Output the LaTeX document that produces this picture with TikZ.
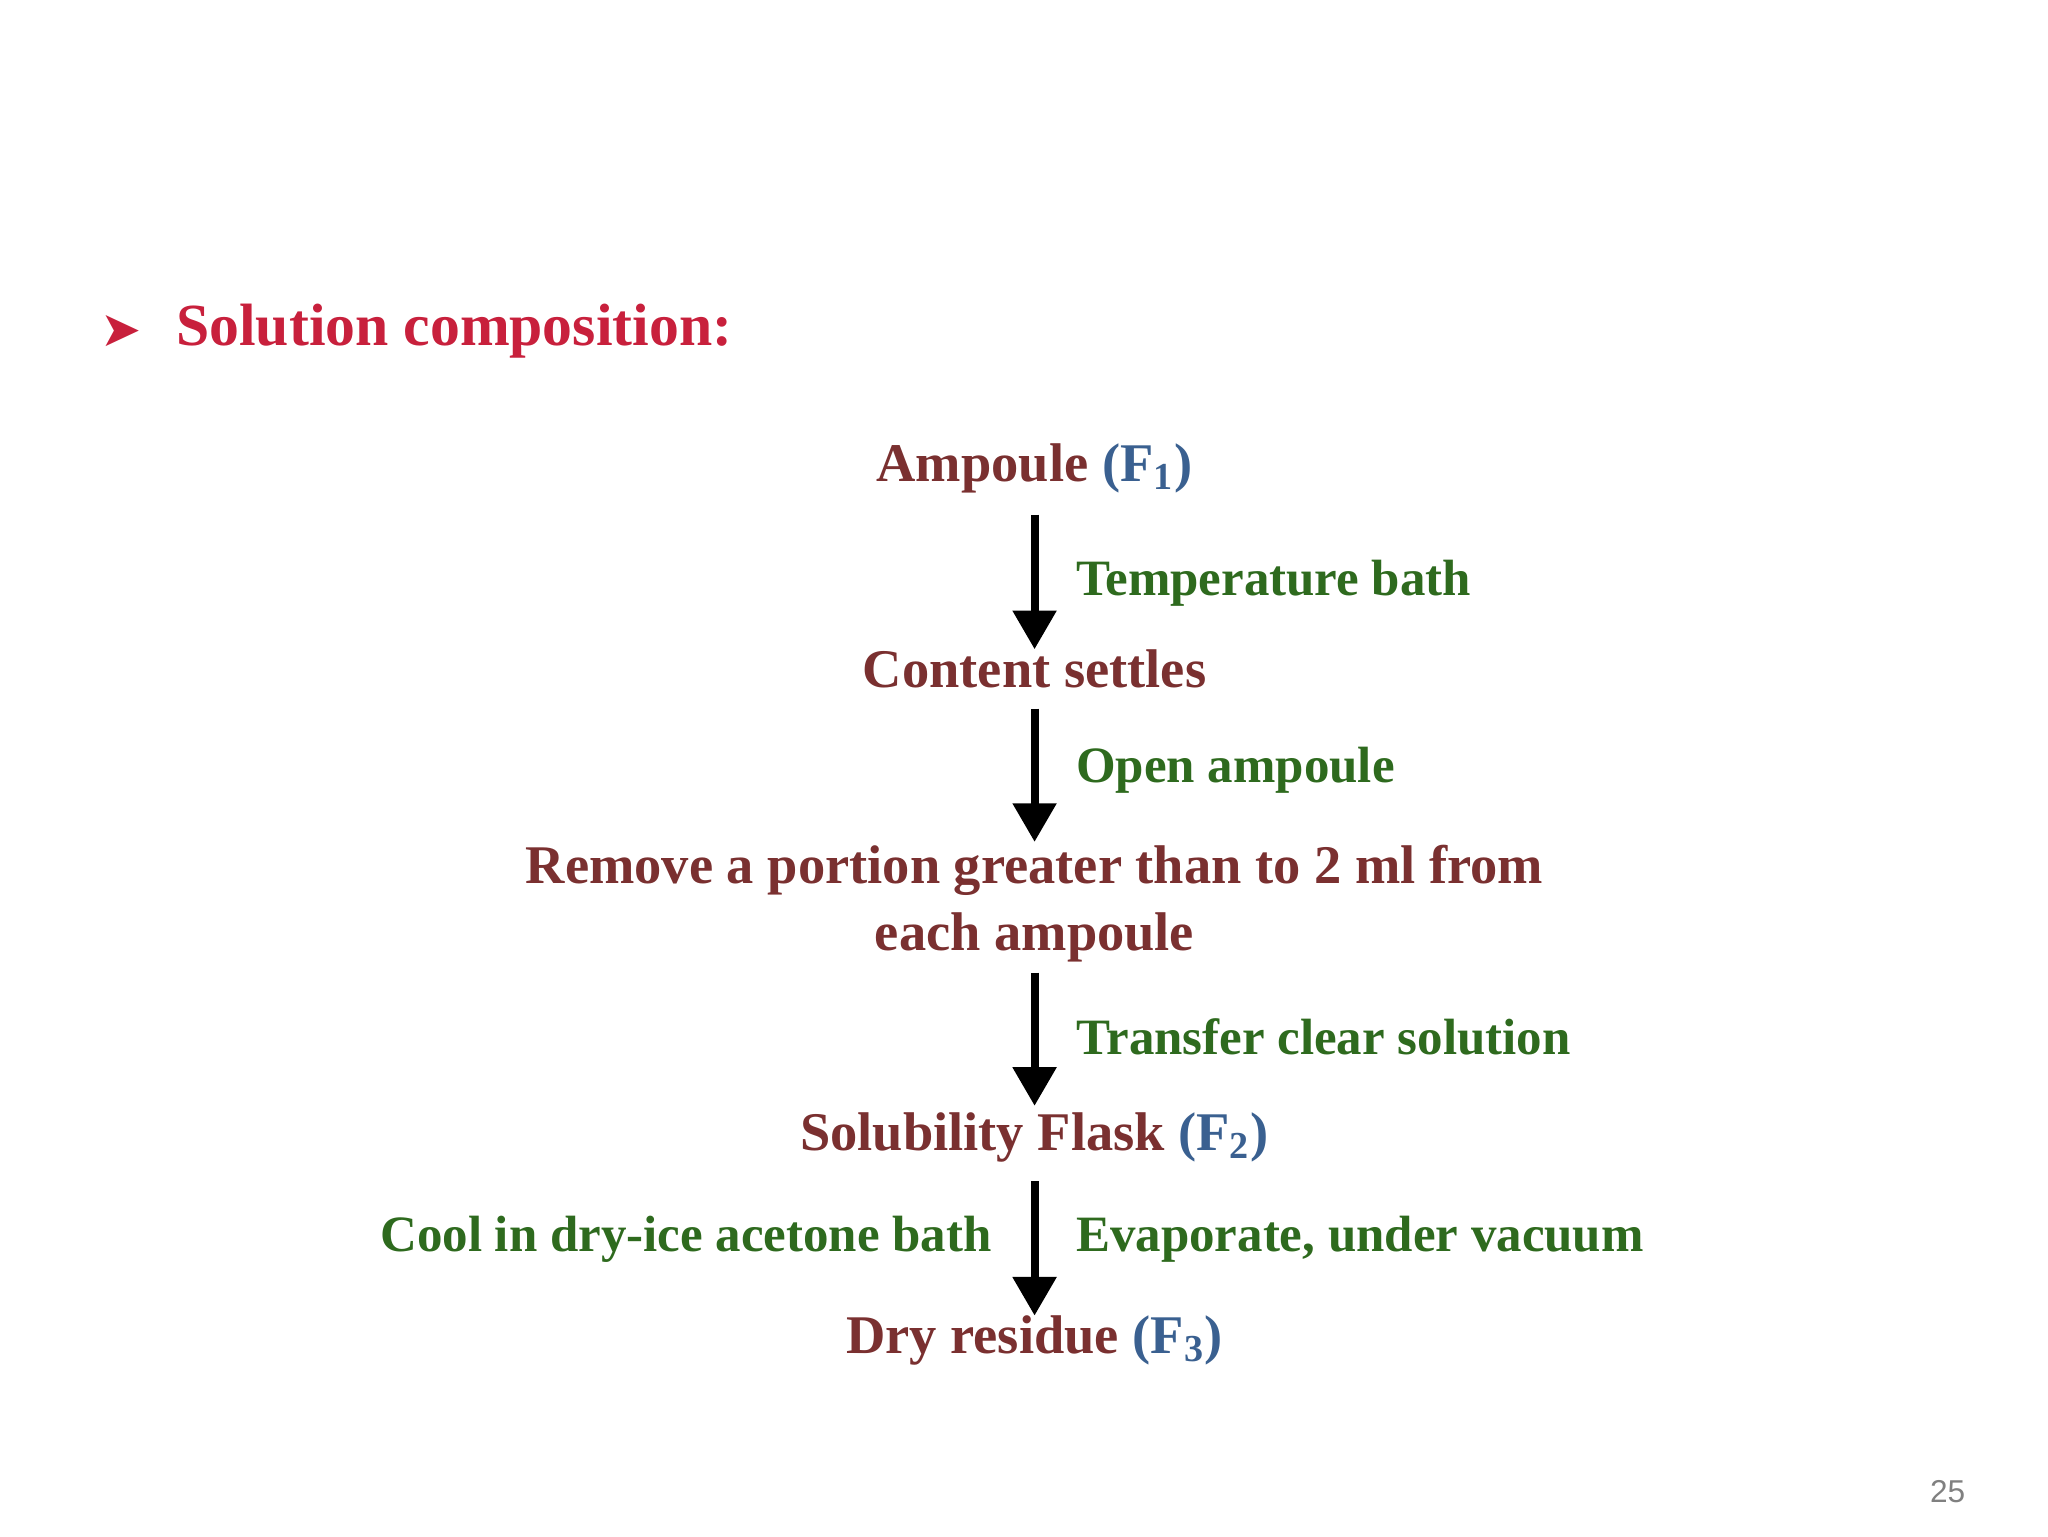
\documentclass[tikz,border=0pt]{standalone}
\usepackage{fontspec}
\setmainfont{Liberation Serif}
\newfontfamily\djv{DejaVu Sans}
\newfontfamily\lsans{Liberation Sans}
\usetikzlibrary{arrows.meta}
\definecolor{titlered}{RGB}{200,32,60}
\definecolor{brownc}{RGB}{122,48,48}
\definecolor{bluec}{RGB}{58,96,144}
\definecolor{greenc}{RGB}{46,106,30}
\begin{document}
\begin{tikzpicture}[x=0.0132cm,y=-0.0132cm,
  main/.style={font=\fontsize{15.5}{19}\selectfont\bfseries,text=brownc,align=center,inner sep=0pt},
  lab/.style={font=\fontsize{14.5}{17}\selectfont\bfseries,text=greenc,inner sep=0pt},
  flow/.style={line width=2.3pt,-{Triangle[width=12pt,length=11pt]}}]
\useasboundingbox (0,0) rectangle (1552,1164);
\node[text=titlered,font=\djv\fontsize{14}{16}\selectfont,inner sep=0pt] (bul) at (92,251) {➤};
\node[anchor=west,text=titlered,font=\fontsize{17}{20}\selectfont\bfseries,inner sep=0pt] (title) at (133,251) {Solution composition:};
\node[main] (n1) at (784,355) {Ampoule \textcolor{bluec}{(F\textsubscript{1})}};
\node[main] (n2) at (784,507) {Content settles};
\node[main] (n3) at (784,685) {Remove a portion greater than to 2 ml from\\each ampoule};
\node[main] (n4) at (784,862) {Solubility Flask \textcolor{bluec}{(F\textsubscript{2})}};
\node[main] (n5) at (784,1016) {Dry residue \textcolor{bluec}{(F\textsubscript{3})}};
\coordinate (a1) at (784,390); \coordinate (b1) at (784,492);
\coordinate (a2) at (784,537); \coordinate (b2) at (784,638);
\coordinate (a3) at (784,737); \coordinate (b3) at (784,838);
\coordinate (a4) at (784,895); \coordinate (b4) at (784,997);
\draw[flow] (a1) -- (b1);
\draw[flow] (a2) -- (b2);
\draw[flow] (a3) -- (b3);
\draw[flow] (a4) -- (b4);
\node[lab,anchor=west] (l1) at (815,442) {Temperature bath};
\node[lab,anchor=west] (l2) at (815,584) {Open ampoule};
\node[lab,anchor=west] (l3) at (815,786) {Transfer clear solution};
\node[lab,anchor=west] (l4) at (815,939) {Evaporate, under vacuum};
\node[lab,anchor=east] (l5) at (752,939) {Cool in dry-ice acetone bath};
\node[font=\lsans\fontsize{9}{11}\selectfont,text=gray,inner sep=0pt] (pg) at (1476,1130) {25};
\end{tikzpicture}
\end{document}
